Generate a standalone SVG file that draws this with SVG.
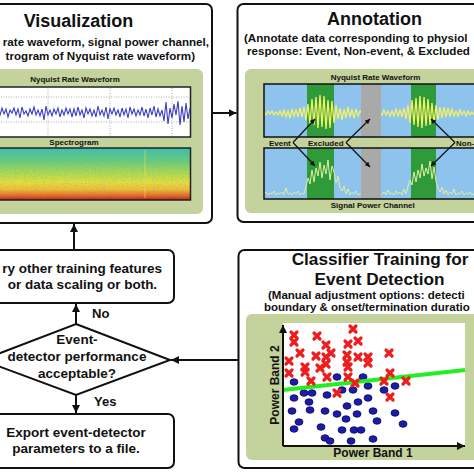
<svg xmlns="http://www.w3.org/2000/svg" xmlns:xlink="http://www.w3.org/1999/xlink" width="474" height="474" viewBox="0 0 474 474">
<style>
text{font-family:"Liberation Sans",Arial,sans-serif;font-weight:bold;fill:#111}
.box{fill:#fff;stroke:#111;stroke-width:2}
.panel{fill:#c4d29c}
.t18{font-size:18px}
.t12{font-size:11.6px}
.t13{font-size:13.5px}
.t8{font-size:8px}
.mid{text-anchor:middle}
.end{text-anchor:end}
.conn{stroke:#111;stroke-width:2;fill:none;marker-end:url(#ah)}
.small{stroke:#111;stroke-width:1.2;fill:none;marker-end:url(#ahs)}
.grid{stroke:#999;stroke-width:0.8;stroke-dasharray:1 1.5}
</style>
<defs>
<marker id="ah" viewBox="0 0 10 10" refX="10" refY="5" markerWidth="8" markerHeight="8" markerUnits="userSpaceOnUse" orient="auto"><path d="M0,0 L10,5 L0,10 z" fill="#111"/></marker>
<marker id="ahs" viewBox="0 0 10 10" refX="10" refY="5" markerWidth="5" markerHeight="5" markerUnits="userSpaceOnUse" orient="auto"><path d="M0,0 L10,5 L0,10 z" fill="#111"/></marker>
<linearGradient id="spec" x1="0" y1="0" x2="0" y2="1">
<stop offset="0" stop-color="#3cbfae"/>
<stop offset="0.25" stop-color="#66cc78"/>
<stop offset="0.5" stop-color="#b4da4a"/>
<stop offset="0.66" stop-color="#e6df3a"/>
<stop offset="0.8" stop-color="#f0bb30"/>
<stop offset="0.92" stop-color="#e66420"/>
<stop offset="1" stop-color="#c41a10"/>
</linearGradient>
<filter id="spk" x="0" y="0" width="1" height="1">
<feTurbulence type="fractalNoise" baseFrequency="0.9" numOctaves="2" seed="4"/>
<feColorMatrix type="matrix" values="0 0 0 0 0.15  0 0 0 0 0.35  0 0 0 0 0.6  2.4 0 0 0 -1.15"/>
</filter>
<path id="xm" d="M-3,-3 L3,3 M3,-3 L-3,3" stroke="#ee1c1c" stroke-width="3.2" stroke-linecap="round"/>
<ellipse id="dot" rx="4" ry="3.3" fill="#1c1ca8" stroke="#0a0a5a" stroke-width="0.8"/>
</defs>
<rect width="474" height="474" fill="#fff"/>

<g id="visualization">
<rect class="box" x="-20" y="4" width="232" height="219" rx="6"/>
<text class="t18 mid" x="78.5" y="27">Visualization</text>
<text class="t12 end" x="209" y="46">rate waveform, signal power channel,</text>
<text class="t12 end" x="195" y="60">trogram of Nyquist rate waveform)</text>
<rect class="panel" x="-20" y="69" width="223" height="145" rx="6"/>
<text class="t8 mid" x="75" y="82">Nyquist Rate Waveform</text>
<rect x="-5" y="87" width="195.5" height="50" fill="#fff" stroke="#222" stroke-width="1.5"/>
<path class="grid" d="M48,88 V136 M110,88 V136 M172,88 V136 M-4,97 H190 M-4,122 H190"/>
<polyline fill="none" stroke="#3d3dc0" stroke-width="1.1" points="-2,110 0,115 2,108 4,114 6,109 8,117 10,110 12,113 14,108 16,115 18,109 20,118 22,107 24,114 26,111 28,116 30,109 32,114 34,107 36,115 38,110 40,116 42,109 44,120 46,106 48,115 50,110 52,116 54,109 56,114 58,108 60,117 62,110 64,115 66,108 68,114 70,109 72,117 74,109 76,116 78,107 80,115 82,110 84,118 86,108 88,114 90,109 92,116 94,110 96,117 98,106 100,115 102,110 104,116 106,107 108,119 110,109 112,114 114,108 116,115 118,110 120,117 122,108 124,115 126,109 128,118 130,107 132,114 134,109 136,116 138,110 140,115 142,107 144,116 146,109 148,118 150,108 152,115 154,106 156,117 158,109 160,116 162,110 164,121 166,102 168,124 170,108 172,118 174,104 176,115 178,101 180,125 182,106 184,122 186,103 188,119 190,108"/>
<text class="t8 mid" x="74" y="145">Spectrogram</text>
<rect x="-5" y="148" width="195.5" height="52" fill="url(#spec)"/>
<rect x="-5" y="148" width="195.5" height="52" fill="#000" filter="url(#spk)" opacity="0.5"/>
<line x1="145" y1="150" x2="145" y2="198" stroke="#f0e060" stroke-width="1" opacity="0.6"/>
<rect x="-5" y="148" width="195.5" height="52" fill="none" stroke="#222" stroke-width="1.5"/>
</g>

<g id="annotation">
<rect class="box" x="237.5" y="4" width="260" height="218" rx="6"/>
<text class="t18 mid" x="374.5" y="25">Annotation</text>
<text class="t12" x="244" y="42">(Annotate data corresponding to physiol</text>
<text class="t12" x="247" y="55">response: Event, Non-event, &amp; Excluded</text>
<rect class="panel" x="245" y="69" width="260" height="144" rx="6"/>
<text class="t8 mid" x="375.5" y="80">Nyquist Rate Waveform</text>
<rect x="264" y="84" width="215" height="53" fill="#8ec3ee"/>
<rect x="264" y="148" width="215" height="51" fill="#8ec3ee"/>
<path fill="#2e9a3a" d="M307,84 h27 v53 h-27 z M411,84 h25 v53 h-25 z M307,148 h27 v51 h-27 z M411,148 h25 v51 h-25 z"/>
<polyline fill="none" stroke="#f2f264" stroke-width="1.3" points="264,112 266,115 268,111 270,114 272,111 274,115 276,112 278,115 280,111 282,116 284,110 286,117 288,111 290,118 292,109 294,116 296,110 298,117 300,108 302,117 304,107 306,120 308,104 310,124 312,99 314,125 316,97 318,128 320,95 322,127 324,96 326,129 328,100 330,128 332,101 334,123 336,105 338,119 340,108 342,120 344,109 346,118 348,107 350,117 352,110 354,118 356,109 358,116 360,111 362,113"/>
<polyline fill="none" stroke="#f2f264" stroke-width="1.3" points="380,113 382,115 384,110 386,115 388,111 390,116 392,111 394,116 396,109 398,116 400,110 402,117 404,108 406,119 408,105 410,123 412,100 414,125 416,98 418,127 420,96 422,128 424,97 426,126 428,99 430,125 432,103 434,124 436,105 438,120 440,107 442,118 444,107 446,117 448,108 450,116 452,109 454,116 456,111 458,116 460,110 462,115 464,111 466,116 468,111 470,115 472,112 474,115"/>
<polyline fill="none" stroke="#def0a0" stroke-width="1" points="264,194 266,192 268,195 270,193 272,194 274,191 276,195 278,193 280,194 282,192 284,195 286,188 288,194 290,193 292,195 294,192 296,194 298,191 300,195 302,193 304,194 306,186 308,178 310,184 312,170 314,182 316,168 318,176 320,162 322,178 324,165 326,174 328,160 330,180 332,166 334,172 336,183 338,176 340,188 342,191 344,186 346,194 348,189 350,195 352,192 354,194 356,191 358,195 360,194 362,194"/>
<polyline fill="none" stroke="#def0a0" stroke-width="1" points="380,194 382,194 384,192 386,195 388,190 390,194 392,193 394,195 396,191 398,194 400,192 402,195 404,189 406,194 408,186 410,180 412,185 414,172 416,182 418,170 420,178 422,164 424,176 426,168 428,174 430,161 432,179 434,167 436,181 438,188 440,192 442,187 444,194 446,190 448,195 450,192 452,194 454,189 456,195 458,193 460,194 462,191 464,195 466,193 468,194 470,192 472,195 474,194"/>
<path fill="#a9a9a9" d="M361,84 h20 v53 h-20 z M361,148 h20 v51 h-20 z"/>
<rect x="264" y="84" width="215" height="53" fill="none" stroke="#111" stroke-width="1.5"/>
<rect x="264" y="148" width="215" height="51" fill="none" stroke="#111" stroke-width="1.5"/>
<text class="t8" x="269" y="146">Event</text>
<text class="t8" x="308" y="146">Excluded</text>
<text class="t8" x="456" y="146">Non-</text>
<path class="small" d="M293,142.5 L315,119"/>
<path class="small" d="M293,142.5 L315,166"/>
<path class="small" d="M346,142.5 L370,119"/>
<path class="small" d="M346,142.5 L370,167"/>
<path class="small" d="M455,142.5 L431,119"/>
<path class="small" d="M455,142.5 L431,166"/>
<text class="t8 mid" x="372.7" y="208">Signal Power Channel</text>
</g>

<g id="try-other">
<rect class="box" x="-20" y="250" width="194" height="53" rx="6"/>
<text class="t13 end" x="162" y="273">ry other training features</text>
<text class="t13 mid" x="82.5" y="289">or data scaling or both.</text>
</g>

<g id="decision">
<polygon points="76,324 170,360 76,395 -18,360" fill="#fff" stroke="#111" stroke-width="2"/>
<text class="t13 mid" x="77" y="344">Event-</text>
<text class="t13 mid" x="77" y="361">detector performance</text>
<text class="t13 mid" x="77" y="378">acceptable?</text>
</g>

<g id="export">
<rect class="box" x="-20" y="414" width="194" height="54" rx="6"/>
<text class="t13 mid" x="76" y="437">Export event-detector</text>
<text class="t13 mid" x="76" y="453">parameters to a file.</text>
</g>

<g id="classifier">
<rect class="box" x="238.5" y="250" width="260" height="218" rx="6"/>
<text class="mid" x="380" y="265" style="font-size:17.2px">Classifier Training for</text>
<text class="mid" x="379.5" y="285" style="font-size:17.2px">Event Detection</text>
<text x="268" y="299" style="font-size:11.5px">(Manual adjustment options: detecti</text>
<text x="264" y="311" style="font-size:11.5px">boundary &amp; onset/termination duratio</text>
<rect class="panel" x="246" y="314" width="260" height="146" rx="6"/>
<rect x="283" y="323" width="182" height="123" fill="#fff"/>
<g>
<use xlink:href="#dot" x="294" y="382"/><use xlink:href="#dot" x="337" y="377"/><use xlink:href="#dot" x="363" y="377"/>
<use xlink:href="#dot" x="304" y="393"/><use xlink:href="#dot" x="312" y="393"/><use xlink:href="#dot" x="342" y="390"/>
<use xlink:href="#dot" x="353" y="390"/><use xlink:href="#dot" x="368" y="386"/><use xlink:href="#dot" x="384" y="390"/>
<use xlink:href="#dot" x="395" y="386"/><use xlink:href="#dot" x="294" y="398"/><use xlink:href="#dot" x="309" y="402"/>
<use xlink:href="#dot" x="327" y="395"/><use xlink:href="#dot" x="358" y="402"/><use xlink:href="#dot" x="368" y="398"/>
<use xlink:href="#dot" x="292" y="411"/><use xlink:href="#dot" x="310" y="410"/><use xlink:href="#dot" x="325" y="411"/>
<use xlink:href="#dot" x="337" y="414"/><use xlink:href="#dot" x="347" y="406"/><use xlink:href="#dot" x="357" y="414"/>
<use xlink:href="#dot" x="373" y="411"/><use xlink:href="#dot" x="395" y="413"/><use xlink:href="#dot" x="299" y="422"/>
<use xlink:href="#dot" x="346" y="419"/><use xlink:href="#dot" x="377" y="421"/><use xlink:href="#dot" x="294" y="429"/>
<use xlink:href="#dot" x="321" y="427"/><use xlink:href="#dot" x="342" y="430"/><use xlink:href="#dot" x="354" y="430"/>
<use xlink:href="#dot" x="361" y="430"/><use xlink:href="#dot" x="403" y="424"/><use xlink:href="#dot" x="325" y="438"/>
<use xlink:href="#dot" x="330" y="441"/><use xlink:href="#dot" x="351" y="441"/><use xlink:href="#dot" x="373" y="439"/>
</g>
<line x1="283" y1="390" x2="465" y2="370" stroke="#22ee22" stroke-width="4"/>
<g>
<use xlink:href="#xm" x="294" y="335"/><use xlink:href="#xm" x="294" y="342"/><use xlink:href="#xm" x="317" y="336"/>
<use xlink:href="#xm" x="353" y="329"/><use xlink:href="#xm" x="358" y="341"/><use xlink:href="#xm" x="326" y="345"/>
<use xlink:href="#xm" x="348" y="344"/><use xlink:href="#xm" x="300" y="353"/><use xlink:href="#xm" x="316" y="356"/>
<use xlink:href="#xm" x="331" y="353"/><use xlink:href="#xm" x="326" y="357"/><use xlink:href="#xm" x="347" y="355"/>
<use xlink:href="#xm" x="358" y="357"/><use xlink:href="#xm" x="368" y="357"/><use xlink:href="#xm" x="389" y="353"/>
<use xlink:href="#xm" x="289" y="361"/><use xlink:href="#xm" x="305" y="367"/><use xlink:href="#xm" x="305" y="372"/>
<use xlink:href="#xm" x="320" y="368"/><use xlink:href="#xm" x="326" y="364"/><use xlink:href="#xm" x="347" y="362"/>
<use xlink:href="#xm" x="348" y="367"/><use xlink:href="#xm" x="368" y="363"/><use xlink:href="#xm" x="289" y="373"/>
<use xlink:href="#xm" x="311" y="381"/><use xlink:href="#xm" x="327" y="377"/><use xlink:href="#xm" x="348" y="377"/>
<use xlink:href="#xm" x="355" y="383"/><use xlink:href="#xm" x="390" y="373"/><use xlink:href="#xm" x="384" y="381"/>
<use xlink:href="#xm" x="406" y="381"/><use xlink:href="#xm" x="337" y="393"/><use xlink:href="#xm" x="390" y="397"/>
</g>
<path d="M283,446 V325" stroke="#111" stroke-width="2" fill="none" marker-end="url(#ah)"/>
<path d="M283,446 H465" stroke="#111" stroke-width="2" fill="none" marker-end="url(#ah)"/>
<text class="mid" x="373" y="457" style="font-size:12px">Power Band 1</text>
<text class="mid" transform="translate(279,385) rotate(-90)" style="font-size:12px">Power Band 2</text>
</g>

<g id="connectors">
<path class="conn" d="M74,250 V224"/>
<path class="conn" d="M212,113 H236.5"/>
<path class="conn" d="M76,324 V304"/>
<path class="conn" d="M238.5,360 H171"/>
<path class="conn" d="M76,395 V413"/>
<text x="92" y="318" style="font-size:13px">No</text>
<text x="94" y="406" style="font-size:13px">Yes</text>
</g>
</svg>
